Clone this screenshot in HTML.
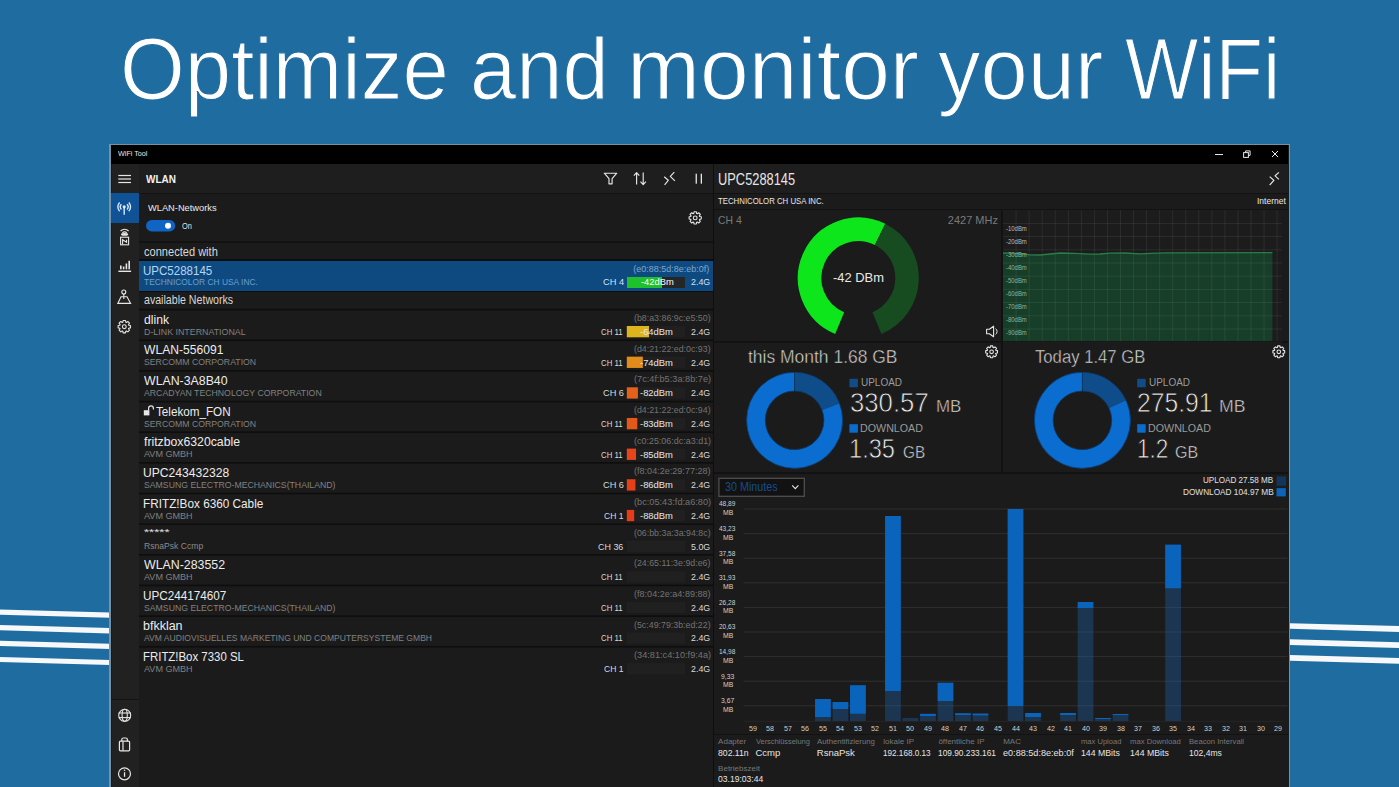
<!DOCTYPE html>
<html><head><meta charset="utf-8">
<style>
*{margin:0;padding:0;box-sizing:border-box}
html,body{width:1399px;height:787px;overflow:hidden}
body{position:relative;background:#1f6ca1;font-family:"Liberation Sans",sans-serif;color:#fff}
.t{position:absolute;white-space:nowrap;line-height:1;transform-origin:0 0}
.p{position:absolute}
.h{position:absolute;top:25px;font-size:87px;line-height:1;color:#fff;white-space:nowrap;transform-origin:0 0;-webkit-text-stroke:1.2px #1f6ca1}
svg{position:absolute;left:0;top:0}
</style></head><body>
<svg width="1399" height="787" style="z-index:0">
  <rect width="1399" height="787" fill="#1f6ca1"/>
  <g fill="#f6f8fa">
    <polygon points="0,609.5 110,612.5 110,617.8 0,614.8"/>
    <polygon points="0,625 110,628 110,633.4 0,630.3"/>
    <polygon points="0,640.8 110,643.8 110,649 0,645.9"/>
    <polygon points="0,656.9 110,659.9 110,665.1 0,662"/>
    <polygon points="1290,623.2 1399,626.1 1399,631.9 1290,628.8"/>
    <polygon points="1290,639.3 1399,642.2 1399,648 1290,645"/>
    <polygon points="1290,655 1399,657.9 1399,663.7 1290,660.7"/>
  </g>
</svg>
<div class="h" style="left:119.9px;transform:scaleX(0.958)">Optimize</div>
<div class="h" style="left:469.8px;transform:scaleX(0.956)">and</div>
<div class="h" style="left:626.8px;transform:scaleX(1.0065)">monitor</div>
<div class="h" style="left:937.8px;transform:scaleX(0.976)">your</div>
<div class="h" style="left:1124.8px;transform:scaleX(0.893)">WiFi</div>

<!-- window -->
<div class="p" style="left:109px;top:144px;width:1181px;height:643px;background:#7890a2"></div>
<div class="p" style="left:111px;top:145px;width:1177.5px;height:642px;background:#1b1b1b"></div>
<div class="p" style="left:111px;top:145px;width:1177px;height:19px;background:#000"></div>
<!-- nav -->
<div class="p" style="left:111px;top:164px;width:28px;height:623px;background:#212121"></div><div class="p" style="left:111px;top:164px;width:1px;height:623px;background:#151a1d"></div>
<div class="p" style="left:111px;top:193px;width:28px;height:30px;background:#0f5296"></div>
<div class="p" style="left:111px;top:698.5px;width:28px;height:1.5px;background:#141414"></div>
<!-- left header -->
<div class="p" style="left:139px;top:164px;width:574px;height:29px;background:#1e1e1e"></div>
<div class="p" style="left:139px;top:192.5px;width:574px;height:1.5px;background:#121212"></div>
<div class="p" style="left:139px;top:240.5px;width:574px;height:2px;background:#121212"></div>
<div class="p" style="left:139px;top:260.5px;width:574px;height:30.5px;background:#0e4a80"></div>
<div class="p" style="left:139px;top:291px;width:574px;height:18px;background:#1b1b1b"></div>
<div class="p" style="left:139px;top:290.8px;width:574px;height:1.6px;background:#0a0f14"></div>
<div class="p" style="left:139px;top:259.3px;width:574px;height:1.3px;background:#0a0f14"></div>
<div class="p" style="left:626.8px;top:276.5px;width:58.5px;height:11.4px;background:#262626"></div>
<div class="p" style="left:626.8px;top:276.5px;width:35.7px;height:11.4px;background:#1ec12c"></div>
<!-- divider -->
<div class="p" style="left:713px;top:164px;width:1px;height:623px;background:#0e0e0e"></div>
<!-- right header -->
<div class="p" style="left:714px;top:164px;width:574px;height:29px;background:#1e1e1e"></div>
<div class="p" style="left:714px;top:192.5px;width:574px;height:1px;background:#121212"></div>
<div class="p" style="left:714px;top:208.5px;width:574px;height:1.5px;background:#121212"></div>
<div class="p" style="left:714px;top:341px;width:574px;height:2px;background:#121212"></div>
<div class="p" style="left:1001px;top:210px;width:2px;height:262px;background:#121212"></div>
<div class="p" style="left:714px;top:472px;width:574px;height:1.5px;background:#121212"></div>
<div class="p" style="left:714px;top:733.5px;width:574px;height:1.5px;background:#121212"></div>

<svg width="1399" height="787">
<rect x="139" y="308.80" width="574" height="1.6" fill="#0e0e0e"/>
<rect x="626.8" y="326.00" width="58.5" height="11.3" fill="#202020"/>
<rect x="626.8" y="326.00" width="22.21" height="11.3" fill="#dcb41e"/>
<rect x="139" y="339.45" width="574" height="1.6" fill="#0e0e0e"/>
<rect x="626.8" y="356.65" width="58.5" height="11.3" fill="#202020"/>
<rect x="626.8" y="356.65" width="16.04" height="11.3" fill="#e28c1c"/>
<rect x="139" y="370.10" width="574" height="1.6" fill="#0e0e0e"/>
<rect x="626.8" y="387.30" width="58.5" height="11.3" fill="#202020"/>
<rect x="626.8" y="387.30" width="11.11" height="11.3" fill="#e2621c"/>
<rect x="139" y="400.75" width="574" height="1.6" fill="#0e0e0e"/>
<rect x="626.8" y="417.95" width="58.5" height="11.3" fill="#202020"/>
<rect x="626.8" y="417.95" width="10.49" height="11.3" fill="#e4581a"/>
<rect x="139" y="431.40" width="574" height="1.6" fill="#0e0e0e"/>
<rect x="626.8" y="448.60" width="58.5" height="11.3" fill="#202020"/>
<rect x="626.8" y="448.60" width="9.25" height="11.3" fill="#e6461a"/>
<rect x="139" y="462.05" width="574" height="1.6" fill="#0e0e0e"/>
<rect x="626.8" y="479.25" width="58.5" height="11.3" fill="#202020"/>
<rect x="626.8" y="479.25" width="8.64" height="11.3" fill="#e6401a"/>
<rect x="139" y="492.70" width="574" height="1.6" fill="#0e0e0e"/>
<rect x="626.8" y="509.90" width="58.5" height="11.3" fill="#202020"/>
<rect x="626.8" y="509.90" width="7.40" height="11.3" fill="#e63c1a"/>
<rect x="139" y="523.35" width="574" height="1.6" fill="#0e0e0e"/>
<rect x="626.8" y="540.55" width="58.5" height="11.3" fill="#202020"/>
<rect x="139" y="554.00" width="574" height="1.6" fill="#0e0e0e"/>
<rect x="626.8" y="571.20" width="58.5" height="11.3" fill="#202020"/>
<rect x="139" y="584.65" width="574" height="1.6" fill="#0e0e0e"/>
<rect x="626.8" y="601.85" width="58.5" height="11.3" fill="#202020"/>
<rect x="139" y="615.30" width="574" height="1.6" fill="#0e0e0e"/>
<rect x="626.8" y="632.50" width="58.5" height="11.3" fill="#202020"/>
<rect x="139" y="645.95" width="574" height="1.6" fill="#0e0e0e"/>
<rect x="626.8" y="663.15" width="58.5" height="11.3" fill="#202020"/>
<rect x="118.3" y="174.9" width="12.7" height="1.2" fill="#e6e6e6"/>
<rect x="118.3" y="178.4" width="12.7" height="1.2" fill="#e6e6e6"/>
<rect x="118.3" y="181.9" width="12.7" height="1.2" fill="#e6e6e6"/>
<g fill="none" stroke="#d6eaff" stroke-width="1.4">
<path d="M121.4,204.20000000000002 A3.8,3.8 0 0 0 121.4,209.4"/>
<path d="M127.0,204.20000000000002 A3.8,3.8 0 0 1 127.0,209.4"/>
<path d="M119.60000000000001,202.4 A6.4,6.4 0 0 0 119.60000000000001,211.20000000000002"/>
<path d="M128.8,202.4 A6.4,6.4 0 0 1 128.8,211.20000000000002"/>
<line x1="124.2" y1="206.8" x2="124.2" y2="214.8"/>
</g>
<circle cx="124.2" cy="206.8" r="1.6" fill="#dcecff"/>
<g fill="none" stroke="#e6e6e6" stroke-width="1.1">
<path d="M120.6,231 A5.5,5.5 0 0 1 128.6,231"/>
<path d="M122.39999999999999,232.8 A3,3 0 0 1 126.8,232.8"/>
<rect x="120.6" y="237.2" width="8" height="7.6"/>
<path d="M122.6,244.5 L122.6,239.8 L126.6,242.2 L126.6,239.8"/>
</g>
<ellipse cx="124.6" cy="234.4" rx="3.6" ry="1.4" fill="#e6e6e6"/>
<rect x="118.4" y="270.6" width="12.7" height="1.4" fill="#e6e6e6"/>
<rect x="120" y="265.5" width="1.6" height="3.8000000000000114" fill="#e6e6e6"/>
<rect x="122.8" y="266.5" width="1.6" height="2.8000000000000114" fill="#e6e6e6"/>
<rect x="125.6" y="263.5" width="1.6" height="5.800000000000011" fill="#e6e6e6"/>
<rect x="128.4" y="260.8" width="1.6" height="8.5" fill="#e6e6e6"/>
<g fill="none" stroke="#e6e6e6" stroke-width="1.1">
<circle cx="123.8" cy="292" r="2"/>
<line x1="123.8" y1="294" x2="123.8" y2="299"/>
<path d="M121,296.8 L127,296.8 L130.6,303.4 L117.8,303.4 Z"/>
</g>
<path d="M128.76,325.21 L130.48,325.50 L130.48,327.90 L128.76,328.19 L128.51,328.80 L129.52,330.22 L127.82,331.92 L126.40,330.91 L125.79,331.16 L125.50,332.88 L123.10,332.88 L122.81,331.16 L122.20,330.91 L120.78,331.92 L119.08,330.22 L120.09,328.80 L119.84,328.19 L118.12,327.90 L118.12,325.50 L119.84,325.21 L120.09,324.60 L119.08,323.18 L120.78,321.48 L122.20,322.49 L122.81,322.24 L123.10,320.52 L125.50,320.52 L125.79,322.24 L126.40,322.49 L127.82,321.48 L129.52,323.18 L128.51,324.60Z" fill="none" stroke="#e6e6e6" stroke-width="1.1" stroke-linejoin="round"/><circle cx="124.3" cy="326.7" r="1.9" fill="none" stroke="#e6e6e6" stroke-width="1.1"/>
<g fill="none" stroke="#e6e6e6" stroke-width="1.1">
<circle cx="124.7" cy="715.3" r="6"/>
<ellipse cx="124.7" cy="715.3" rx="2.6" ry="6"/>
<line x1="118.7" y1="713" x2="130.7" y2="713"/><line x1="118.7" y1="717.6" x2="130.7" y2="717.6"/>
</g>
<g fill="none" stroke="#e6e6e6" stroke-width="1.2">
<rect x="119.4" y="741.2" width="10.2" height="9.6" rx="1"/>
<path d="M121.8,741.2 L121.8,739.6 A1.6,1.6 0 0 1 123.4,738 L125.8,738 A1.6,1.6 0 0 1 127.4,739.6 L127.4,741.2"/>
<line x1="123" y1="741.2" x2="123" y2="750.8"/>
</g>
<circle cx="124.5" cy="773.8" r="6" fill="none" stroke="#e6e6e6" stroke-width="1.2"/>
<rect x="123.9" y="772.2" width="1.3" height="4.6" fill="#e6e6e6"/><circle cx="124.55" cy="770.3" r="0.8" fill="#e6e6e6"/>
<g fill="none" stroke="#e6e6e6" stroke-width="1.15" stroke-linejoin="round">
<path d="M604.3,173.2 L616.8,173.2 L612.1,178.6 L612.1,183.8 L609.0,183.8 L609.0,178.6 Z"/>
<path d="M636.6,184.6 L636.6,172.6 M633.9,175.6 L636.6,172.6 L639.3,175.6"/>
<path d="M643.2,172.4 L643.2,184.6 M640.5,181.6 L643.2,184.6 L645.9,181.6"/>
<path d="M664.2,176.8 L668.3,180.3 L664.6,184.8"/>
<path d="M674.3,172.2 L670.3,176.3 L674.9,180.8"/>
<path d="M1269.7,176.6 L1273.9,180.4 L1269.7,185"/>
<path d="M1278.9,172.4 L1275.1,175.8 L1278.9,179.3"/>
</g>
<rect x="695.6" y="173.7" width="1.3" height="10" fill="#e6e6e6"/><rect x="700.7" y="173.7" width="1.3" height="10" fill="#e6e6e6"/>
<path d="M699.56,216.44 L701.29,216.72 L701.29,219.08 L699.56,219.36 L699.32,219.95 L700.34,221.37 L698.67,223.04 L697.25,222.02 L696.66,222.26 L696.38,223.99 L694.02,223.99 L693.74,222.26 L693.15,222.02 L691.73,223.04 L690.06,221.37 L691.08,219.95 L690.84,219.36 L689.11,219.08 L689.11,216.72 L690.84,216.44 L691.08,215.85 L690.06,214.43 L691.73,212.76 L693.15,213.78 L693.74,213.54 L694.02,211.81 L696.38,211.81 L696.66,213.54 L697.25,213.78 L698.67,212.76 L700.34,214.43 L699.32,215.85Z" fill="none" stroke="#e6e6e6" stroke-width="1.1" stroke-linejoin="round"/><circle cx="695.2" cy="217.9" r="1.9" fill="none" stroke="#e6e6e6" stroke-width="1.1"/>
<path d="M995.87,350.37 L997.49,350.66 L997.49,352.94 L995.87,353.23 L995.63,353.81 L996.57,355.16 L994.96,356.77 L993.61,355.83 L993.03,356.07 L992.74,357.69 L990.46,357.69 L990.17,356.07 L989.59,355.83 L988.24,356.77 L986.63,355.16 L987.57,353.81 L987.33,353.23 L985.71,352.94 L985.71,350.66 L987.33,350.37 L987.57,349.79 L986.63,348.44 L988.24,346.83 L989.59,347.77 L990.17,347.53 L990.46,345.91 L992.74,345.91 L993.03,347.53 L993.61,347.77 L994.96,346.83 L996.57,348.44 L995.63,349.79Z" fill="none" stroke="#e6e6e6" stroke-width="1.1" stroke-linejoin="round"/><circle cx="991.6" cy="351.8" r="1.8" fill="none" stroke="#e6e6e6" stroke-width="1.1"/>
<path d="M1283.07,350.37 L1284.69,350.66 L1284.69,352.94 L1283.07,353.23 L1282.83,353.81 L1283.77,355.16 L1282.16,356.77 L1280.81,355.83 L1280.23,356.07 L1279.94,357.69 L1277.66,357.69 L1277.37,356.07 L1276.79,355.83 L1275.44,356.77 L1273.83,355.16 L1274.77,353.81 L1274.53,353.23 L1272.91,352.94 L1272.91,350.66 L1274.53,350.37 L1274.77,349.79 L1273.83,348.44 L1275.44,346.83 L1276.79,347.77 L1277.37,347.53 L1277.66,345.91 L1279.94,345.91 L1280.23,347.53 L1280.81,347.77 L1282.16,346.83 L1283.77,348.44 L1282.83,349.79Z" fill="none" stroke="#e6e6e6" stroke-width="1.1" stroke-linejoin="round"/><circle cx="1278.8" cy="351.8" r="1.8" fill="none" stroke="#e6e6e6" stroke-width="1.1"/>
<path d="M986.6,329.2 L989.4,329.2 L993.6,326.2 L993.6,336.8 L989.4,333.8 L986.6,333.8 Z" fill="none" stroke="#e6e6e6" stroke-width="1.1" stroke-linejoin="round"/>
<path d="M995.6,328.6 A3.6,3.6 0 0 1 995.6,334.4" fill="none" stroke="#e6e6e6" stroke-width="1"/>
<rect x="1215" y="154" width="8" height="1" fill="#e6e6e6"/>
<g fill="none" stroke="#e6e6e6" stroke-width="1"><rect x="1243.6" y="152.6" width="4.8" height="4.8"/><path d="M1245.6,152.6 L1245.6,150.9 L1250.1,150.9 L1250.1,155.4 L1248.4,155.4"/>
<path d="M1272,151 L1278,157 M1278,151 L1272,157"/></g>
<rect x="143.8" y="410.2" width="5.6" height="5.2" fill="#e6e6e6"/>
<path d="M148.6,410.4 L148.6,408.2 A2.4,2.4 0 0 1 153.4,408.2 L153.4,409.6" fill="none" stroke="#e6e6e6" stroke-width="1.2"/>
<rect x="146" y="220" width="29.2" height="11.4" rx="5.7" fill="#1064c4"/>
<circle cx="168" cy="225.7" r="3" fill="#ffffff"/>
<path d="M839.64,323.04 A48.75,48.75 0 1 1 880.05,234.37" fill="none" stroke="#0ce61b" stroke-width="23.5"/>
<path d="M880.05,234.37 A48.75,48.75 0 0 1 876.96,323.04" fill="none" stroke="#174c20" stroke-width="23.5"/>
<path d="M794.60,381.65 A38.65,38.65 0 0 1 830.73,406.58" fill="none" stroke="#0f4d8a" stroke-width="18.7"/>
<path d="M830.73,406.58 A38.65,38.65 0 1 1 794.60,381.65" fill="none" stroke="#0b6dcf" stroke-width="18.7"/>
<circle cx="794.6" cy="420.3" r="48" fill="none" stroke="#0b3a68" stroke-width="0.8"/>
<circle cx="794.6" cy="420.3" r="29.3" fill="none" stroke="#0b3a68" stroke-width="0.8"/>
<line x1="794.6" y1="372.3" x2="794.6" y2="391" stroke="#0a3560" stroke-width="1"/>
<path d="M1082.40,381.65 A38.65,38.65 0 0 1 1117.51,404.15" fill="none" stroke="#0f4d8a" stroke-width="18.7"/>
<path d="M1117.51,404.15 A38.65,38.65 0 1 1 1082.40,381.65" fill="none" stroke="#0b6dcf" stroke-width="18.7"/>
<circle cx="1082.4" cy="420.3" r="48" fill="none" stroke="#0b3a68" stroke-width="0.8"/>
<circle cx="1082.4" cy="420.3" r="29.3" fill="none" stroke="#0b3a68" stroke-width="0.8"/>
<line x1="1082.4" y1="372.3" x2="1082.4" y2="391" stroke="#0a3560" stroke-width="1"/>
<rect x="849.4" y="378.8" width="8.5" height="8.5" fill="#104c86"/>
<rect x="849.4" y="424.2" width="8.5" height="8.5" fill="#0b6ccc"/>
<rect x="1137.2" y="378.8" width="8.5" height="8.5" fill="#104c86"/>
<rect x="1137.2" y="424.2" width="8.5" height="8.5" fill="#0b6ccc"/>
<rect x="1003" y="210" width="279" height="131" fill="#1c1c1c"/>
<path d="M1003,253 L1020,253.5 L1030,254.8 L1040,255 L1050,254 L1060,253 L1075,253.4 L1090,254.2 L1100,254 L1110,253.2 L1125,253 L1140,253.8 L1150,253.4 L1165,252.8 L1272.4,252.6 L1272.4,341 L1003,341 Z" fill="#173e28"/>
<rect x="1015.60" y="210" width="1" height="131" fill="#ffffff" fill-opacity="0.07"/>
<rect x="1028.65" y="210" width="1" height="131" fill="#ffffff" fill-opacity="0.07"/>
<rect x="1041.70" y="210" width="1" height="131" fill="#ffffff" fill-opacity="0.07"/>
<rect x="1054.75" y="210" width="1" height="131" fill="#ffffff" fill-opacity="0.07"/>
<rect x="1067.80" y="210" width="1" height="131" fill="#ffffff" fill-opacity="0.07"/>
<rect x="1080.85" y="210" width="1" height="131" fill="#ffffff" fill-opacity="0.07"/>
<rect x="1093.90" y="210" width="1" height="131" fill="#ffffff" fill-opacity="0.07"/>
<rect x="1106.95" y="210" width="1" height="131" fill="#ffffff" fill-opacity="0.07"/>
<rect x="1120.00" y="210" width="1" height="131" fill="#ffffff" fill-opacity="0.07"/>
<rect x="1133.05" y="210" width="1" height="131" fill="#ffffff" fill-opacity="0.07"/>
<rect x="1146.10" y="210" width="1" height="131" fill="#ffffff" fill-opacity="0.07"/>
<rect x="1159.15" y="210" width="1" height="131" fill="#ffffff" fill-opacity="0.07"/>
<rect x="1172.20" y="210" width="1" height="131" fill="#ffffff" fill-opacity="0.07"/>
<rect x="1185.25" y="210" width="1" height="131" fill="#ffffff" fill-opacity="0.07"/>
<rect x="1198.30" y="210" width="1" height="131" fill="#ffffff" fill-opacity="0.07"/>
<rect x="1211.35" y="210" width="1" height="131" fill="#ffffff" fill-opacity="0.07"/>
<rect x="1224.40" y="210" width="1" height="131" fill="#ffffff" fill-opacity="0.07"/>
<rect x="1237.45" y="210" width="1" height="131" fill="#ffffff" fill-opacity="0.07"/>
<rect x="1250.50" y="210" width="1" height="131" fill="#ffffff" fill-opacity="0.07"/>
<rect x="1263.55" y="210" width="1" height="131" fill="#ffffff" fill-opacity="0.07"/>
<rect x="1276.60" y="210" width="1" height="131" fill="#ffffff" fill-opacity="0.07"/>
<rect x="1003" y="222.90" width="279" height="1" fill="#ffffff" fill-opacity="0.07"/>
<rect x="1003" y="236.10" width="279" height="1" fill="#ffffff" fill-opacity="0.07"/>
<rect x="1003" y="249.30" width="279" height="1" fill="#ffffff" fill-opacity="0.07"/>
<rect x="1003" y="262.50" width="279" height="1" fill="#ffffff" fill-opacity="0.07"/>
<rect x="1003" y="275.70" width="279" height="1" fill="#ffffff" fill-opacity="0.07"/>
<rect x="1003" y="288.90" width="279" height="1" fill="#ffffff" fill-opacity="0.07"/>
<rect x="1003" y="302.10" width="279" height="1" fill="#ffffff" fill-opacity="0.07"/>
<rect x="1003" y="315.30" width="279" height="1" fill="#ffffff" fill-opacity="0.07"/>
<rect x="1003" y="328.50" width="279" height="1" fill="#ffffff" fill-opacity="0.07"/>
<rect x="1003" y="341.70" width="279" height="1" fill="#ffffff" fill-opacity="0.07"/>
<path d="M1003,253 L1020,253.5 L1030,254.8 L1040,255 L1050,254 L1060,253 L1075,253.4 L1090,254.2 L1100,254 L1110,253.2 L1125,253 L1140,253.8 L1150,253.4 L1165,252.8 L1272.4,252.6" fill="none" stroke="#2a7d49" stroke-width="1.3"/>
<rect x="743.5" y="508.50" width="544" height="1" fill="#2f2f2f"/>
<rect x="743.5" y="533.10" width="544" height="1" fill="#2f2f2f"/>
<rect x="743.5" y="557.70" width="544" height="1" fill="#2f2f2f"/>
<rect x="743.5" y="582.30" width="544" height="1" fill="#2f2f2f"/>
<rect x="743.5" y="606.90" width="544" height="1" fill="#2f2f2f"/>
<rect x="743.5" y="631.50" width="544" height="1" fill="#2f2f2f"/>
<rect x="743.5" y="656.10" width="544" height="1" fill="#2f2f2f"/>
<rect x="743.5" y="680.70" width="544" height="1" fill="#2f2f2f"/>
<rect x="743.5" y="705.30" width="544" height="1" fill="#2f2f2f"/>
<rect x="743.5" y="720.8" width="540" height="1" fill="#262626"/>
<rect x="815.03" y="699" width="15.8" height="18.00" fill="#0a64bc"/>
<rect x="815.03" y="717" width="15.8" height="4.00" fill="#1f6ac0" fill-opacity="0.33"/>
<rect x="832.53" y="702" width="15.8" height="7.00" fill="#0a64bc"/>
<rect x="832.53" y="709" width="15.8" height="12.00" fill="#1f6ac0" fill-opacity="0.33"/>
<rect x="850.04" y="685.2" width="15.8" height="28.60" fill="#0a64bc"/>
<rect x="850.04" y="713.8" width="15.8" height="7.20" fill="#1f6ac0" fill-opacity="0.33"/>
<rect x="885.06" y="516" width="15.8" height="175.00" fill="#0a64bc"/>
<rect x="885.06" y="691" width="15.8" height="30.00" fill="#1f6ac0" fill-opacity="0.33"/>
<rect x="902.56" y="718" width="15.8" height="3.00" fill="#1f6ac0" fill-opacity="0.33"/>
<rect x="920.07" y="713.8" width="15.8" height="2.20" fill="#0a64bc"/>
<rect x="920.07" y="716" width="15.8" height="5.00" fill="#1f6ac0" fill-opacity="0.33"/>
<rect x="937.58" y="682.7" width="15.8" height="18.30" fill="#0a64bc"/>
<rect x="937.58" y="701" width="15.8" height="20.00" fill="#1f6ac0" fill-opacity="0.33"/>
<rect x="955.08" y="713.2" width="15.8" height="1.80" fill="#0a64bc"/>
<rect x="955.08" y="715" width="15.8" height="6.00" fill="#1f6ac0" fill-opacity="0.33"/>
<rect x="972.59" y="713.5" width="15.8" height="2.00" fill="#0a64bc"/>
<rect x="972.59" y="715.5" width="15.8" height="5.50" fill="#1f6ac0" fill-opacity="0.33"/>
<rect x="1007.61" y="509" width="15.8" height="197.00" fill="#0a64bc"/>
<rect x="1007.61" y="706" width="15.8" height="15.00" fill="#1f6ac0" fill-opacity="0.33"/>
<rect x="1025.11" y="713" width="15.8" height="4.00" fill="#0a64bc"/>
<rect x="1025.11" y="717" width="15.8" height="4.00" fill="#1f6ac0" fill-opacity="0.33"/>
<rect x="1060.13" y="713" width="15.8" height="2.00" fill="#0a64bc"/>
<rect x="1060.13" y="715" width="15.8" height="6.00" fill="#1f6ac0" fill-opacity="0.33"/>
<rect x="1077.63" y="602" width="15.8" height="6.00" fill="#0a64bc"/>
<rect x="1077.63" y="608" width="15.8" height="113.00" fill="#1f6ac0" fill-opacity="0.33"/>
<rect x="1095.14" y="718" width="15.8" height="1.00" fill="#0a64bc"/>
<rect x="1095.14" y="719" width="15.8" height="2.00" fill="#1f6ac0" fill-opacity="0.33"/>
<rect x="1112.65" y="714" width="15.8" height="1.00" fill="#0a64bc"/>
<rect x="1112.65" y="715" width="15.8" height="6.00" fill="#1f6ac0" fill-opacity="0.33"/>
<rect x="1165.17" y="544.6" width="15.8" height="43.80" fill="#0a64bc"/>
<rect x="1165.17" y="588.4" width="15.8" height="132.60" fill="#1f6ac0" fill-opacity="0.33"/>
<rect x="718.9" y="478.3" width="85.4" height="18" fill="#121212" stroke="#4e4e4e" stroke-width="1.3"/>
<path d="M792.2,485.4 L795.3,488.6 L798.4,485.4" fill="none" stroke="#e6e6e6" stroke-width="1.1"/>
<rect x="1276.5" y="476.3" width="9.5" height="9.5" fill="#12355a"/>
<rect x="1276.5" y="488.1" width="9.3" height="8.3" fill="#0b64b8"/>
</svg>
<div class="t" style="left:117.80px;top:150.00px;font-size:7.8px;color:#e8e8e8;transform:scaleX(0.922);">WiFi Tool</div>
<div class="t" style="left:146.30px;top:174.88px;font-size:10.3px;color:#f2f2f2;font-weight:700;transform:scaleX(0.968);">WLAN</div>
<div class="t" style="left:147.60px;top:202.66px;font-size:9.5px;color:#ececec;transform:scaleX(0.976);">WLAN-Networks</div>
<div class="t" style="left:181.60px;top:222.10px;font-size:8.5px;color:#e0e0e0;transform:scaleX(0.873);">On</div>
<div class="t" style="left:143.70px;top:244.80px;font-size:13px;color:#d8d8d8;transform:scaleX(0.851);">connected with</div>
<div class="t" style="left:143.11px;top:263.60px;font-size:13px;color:#b4d6f7;transform:scaleX(0.887);">UPC5288145</div>
<div class="t" style="left:144.00px;top:278.18px;font-size:9px;color:#6f9dcb;transform:scaleX(0.933);">TECHNICOLOR CH USA INC.</div>
<div class="t" style="left:633.30px;top:264.68px;font-size:9px;color:#7ea6cf;">(e0:88:5d:8e:eb:0f)</div>
<div class="t" style="left:602.50px;top:278.08px;font-size:9px;color:#cfe2f5;transform:scaleX(1.025);">CH 4</div>
<div class="t" style="left:640.50px;top:278.08px;font-size:9px;color:#ffffff;transform:scaleX(1.039);">-42dBm</div>
<div class="t" style="left:691.00px;top:278.08px;font-size:9px;color:#cfe2f5;transform:scaleX(0.984);">2.4G</div>
<div class="t" style="left:143.70px;top:293.00px;font-size:13px;color:#d8d8d8;transform:scaleX(0.817);">available Networks</div>
<div class="t" style="left:143.80px;top:312.80px;font-size:13px;color:#ececec;transform:scaleX(0.937);">dlink</div>
<div class="t" style="left:144.00px;top:327.78px;font-size:9px;color:#818181;transform:scaleX(0.984);">D-LINK INTERNATIONAL</div>
<div class="t" style="left:633.70px;top:314.08px;font-size:9px;color:#737373;transform:scaleX(0.981);">(b8:a3:86:9c:e5:50)</div>
<div class="t" style="left:601.20px;top:327.98px;font-size:9px;color:#dadada;transform:scaleX(0.868);">CH 11</div>
<div class="t" style="left:640.40px;top:327.98px;font-size:9px;color:#e6e6e6;transform:scaleX(1.045);">-64dBm</div>
<div class="t" style="left:691.00px;top:327.98px;font-size:9px;color:#dadada;transform:scaleX(0.984);">2.4G</div>
<div class="t" style="left:143.80px;top:343.45px;font-size:13px;color:#ececec;transform:scaleX(0.931);">WLAN-556091</div>
<div class="t" style="left:144.00px;top:358.43px;font-size:9px;color:#818181;transform:scaleX(0.968);">SERCOMM CORPORATION</div>
<div class="t" style="left:633.70px;top:344.73px;font-size:9px;color:#737373;transform:scaleX(0.981);">(d4:21:22:ed:0c:93)</div>
<div class="t" style="left:601.20px;top:358.63px;font-size:9px;color:#dadada;transform:scaleX(0.868);">CH 11</div>
<div class="t" style="left:640.40px;top:358.63px;font-size:9px;color:#e6e6e6;transform:scaleX(1.045);">-74dBm</div>
<div class="t" style="left:691.00px;top:358.63px;font-size:9px;color:#dadada;transform:scaleX(0.984);">2.4G</div>
<div class="t" style="left:143.80px;top:374.10px;font-size:13px;color:#ececec;transform:scaleX(0.948);">WLAN-3A8B40</div>
<div class="t" style="left:144.00px;top:389.08px;font-size:9px;color:#818181;transform:scaleX(0.969);">ARCADYAN TECHNOLOGY CORPORATION</div>
<div class="t" style="left:633.70px;top:375.38px;font-size:9px;color:#737373;transform:scaleX(1.020);">(7c:4f:b5:3a:8b:7e)</div>
<div class="t" style="left:602.50px;top:389.28px;font-size:9px;color:#dadada;transform:scaleX(1.020);">CH 6</div>
<div class="t" style="left:640.40px;top:389.28px;font-size:9px;color:#e6e6e6;transform:scaleX(1.045);">-82dBm</div>
<div class="t" style="left:691.00px;top:389.28px;font-size:9px;color:#dadada;transform:scaleX(0.984);">2.4G</div>
<div class="t" style="left:156.40px;top:404.75px;font-size:13px;color:#ececec;transform:scaleX(0.898);">Telekom_FON</div>
<div class="t" style="left:144.00px;top:419.73px;font-size:9px;color:#818181;transform:scaleX(0.968);">SERCOMM CORPORATION</div>
<div class="t" style="left:633.70px;top:406.03px;font-size:9px;color:#737373;transform:scaleX(0.981);">(d4:21:22:ed:0c:94)</div>
<div class="t" style="left:601.20px;top:419.93px;font-size:9px;color:#dadada;transform:scaleX(0.868);">CH 11</div>
<div class="t" style="left:640.40px;top:419.93px;font-size:9px;color:#e6e6e6;transform:scaleX(1.045);">-83dBm</div>
<div class="t" style="left:691.00px;top:419.93px;font-size:9px;color:#dadada;transform:scaleX(0.984);">2.4G</div>
<div class="t" style="left:143.80px;top:435.40px;font-size:13px;color:#ececec;transform:scaleX(0.942);">fritzbox6320cable</div>
<div class="t" style="left:144.00px;top:450.38px;font-size:9px;color:#818181;transform:scaleX(1.006);">AVM GMBH</div>
<div class="t" style="left:633.70px;top:436.68px;font-size:9px;color:#737373;transform:scaleX(0.994);">(c0:25:06:dc:a3:d1)</div>
<div class="t" style="left:601.20px;top:450.58px;font-size:9px;color:#dadada;transform:scaleX(0.868);">CH 11</div>
<div class="t" style="left:640.40px;top:450.58px;font-size:9px;color:#e6e6e6;transform:scaleX(1.045);">-85dBm</div>
<div class="t" style="left:691.00px;top:450.58px;font-size:9px;color:#dadada;transform:scaleX(0.984);">2.4G</div>
<div class="t" style="left:142.87px;top:466.05px;font-size:13px;color:#ececec;transform:scaleX(0.931);">UPC243432328</div>
<div class="t" style="left:144.00px;top:481.03px;font-size:9px;color:#818181;transform:scaleX(0.967);">SAMSUNG ELECTRO-MECHANICS(THAILAND)</div>
<div class="t" style="left:633.70px;top:467.33px;font-size:9px;color:#737373;transform:scaleX(1.007);">(f8:04:2e:29:77:28)</div>
<div class="t" style="left:602.50px;top:481.23px;font-size:9px;color:#dadada;transform:scaleX(1.020);">CH 6</div>
<div class="t" style="left:640.40px;top:481.23px;font-size:9px;color:#e6e6e6;transform:scaleX(1.045);">-86dBm</div>
<div class="t" style="left:691.00px;top:481.23px;font-size:9px;color:#dadada;transform:scaleX(0.984);">2.4G</div>
<div class="t" style="left:142.89px;top:496.70px;font-size:13px;color:#ececec;transform:scaleX(0.905);">FRITZ!Box 6360 Cable</div>
<div class="t" style="left:144.00px;top:511.68px;font-size:9px;color:#818181;transform:scaleX(1.006);">AVM GMBH</div>
<div class="t" style="left:633.70px;top:497.98px;font-size:9px;color:#737373;transform:scaleX(1.020);">(bc:05:43:fd:a6:80)</div>
<div class="t" style="left:603.90px;top:511.88px;font-size:9px;color:#dadada;transform:scaleX(0.950);">CH 1</div>
<div class="t" style="left:640.40px;top:511.88px;font-size:9px;color:#e6e6e6;transform:scaleX(1.045);">-88dBm</div>
<div class="t" style="left:691.00px;top:511.88px;font-size:9px;color:#dadada;transform:scaleX(0.984);">2.4G</div>
<div class="t" style="left:144.00px;top:527.93px;font-size:9px;color:#e0e0e0;transform:scaleX(1.456);">*****</div>
<div class="t" style="left:144.00px;top:542.33px;font-size:9px;color:#8a8a8a;transform:scaleX(0.955);">RsnaPsk Ccmp</div>
<div class="t" style="left:633.70px;top:528.63px;font-size:9px;color:#737373;transform:scaleX(0.981);">(06:bb:3a:3a:94:8c)</div>
<div class="t" style="left:598.10px;top:542.53px;font-size:9px;color:#dadada;transform:scaleX(0.992);">CH 36</div>
<div class="t" style="left:691.00px;top:542.53px;font-size:9px;color:#dadada;transform:scaleX(0.984);">5.0G</div>
<div class="t" style="left:143.80px;top:558.00px;font-size:13px;color:#ececec;transform:scaleX(0.951);">WLAN-283552</div>
<div class="t" style="left:144.00px;top:572.98px;font-size:9px;color:#818181;transform:scaleX(1.006);">AVM GMBH</div>
<div class="t" style="left:633.70px;top:559.28px;font-size:9px;color:#737373;transform:scaleX(0.981);">(24:65:11:3e:9d:e6)</div>
<div class="t" style="left:601.20px;top:573.18px;font-size:9px;color:#dadada;transform:scaleX(0.868);">CH 11</div>
<div class="t" style="left:691.00px;top:573.18px;font-size:9px;color:#dadada;transform:scaleX(0.984);">2.4G</div>
<div class="t" style="left:142.90px;top:588.65px;font-size:13px;color:#ececec;transform:scaleX(0.901);">UPC244174607</div>
<div class="t" style="left:144.00px;top:603.63px;font-size:9px;color:#818181;transform:scaleX(0.967);">SAMSUNG ELECTRO-MECHANICS(THAILAND)</div>
<div class="t" style="left:633.70px;top:589.93px;font-size:9px;color:#737373;transform:scaleX(1.007);">(f8:04:2e:a4:89:88)</div>
<div class="t" style="left:601.20px;top:603.83px;font-size:9px;color:#dadada;transform:scaleX(0.868);">CH 11</div>
<div class="t" style="left:691.00px;top:603.83px;font-size:9px;color:#dadada;transform:scaleX(0.984);">2.4G</div>
<div class="t" style="left:142.84px;top:619.30px;font-size:13px;color:#ececec;transform:scaleX(0.960);">bfkklan</div>
<div class="t" style="left:144.00px;top:634.28px;font-size:9px;color:#818181;transform:scaleX(0.951);">AVM AUDIOVISUELLES MARKETING UND COMPUTERSYSTEME GMBH</div>
<div class="t" style="left:633.70px;top:620.58px;font-size:9px;color:#737373;transform:scaleX(0.981);">(5c:49:79:3b:ed:22)</div>
<div class="t" style="left:601.20px;top:634.48px;font-size:9px;color:#dadada;transform:scaleX(0.868);">CH 11</div>
<div class="t" style="left:691.00px;top:634.48px;font-size:9px;color:#dadada;transform:scaleX(0.984);">2.4G</div>
<div class="t" style="left:142.92px;top:649.95px;font-size:13px;color:#ececec;transform:scaleX(0.878);">FRITZ!Box 7330 SL</div>
<div class="t" style="left:144.00px;top:664.93px;font-size:9px;color:#818181;transform:scaleX(1.006);">AVM GMBH</div>
<div class="t" style="left:633.70px;top:651.23px;font-size:9px;color:#737373;transform:scaleX(1.020);">(34:81:c4:10:f9:4a)</div>
<div class="t" style="left:603.90px;top:665.13px;font-size:9px;color:#dadada;transform:scaleX(0.950);">CH 1</div>
<div class="t" style="left:691.00px;top:665.13px;font-size:9px;color:#dadada;transform:scaleX(0.984);">2.4G</div>
<div class="t" style="left:718.00px;top:171.86px;font-size:16px;color:#e6e6e6;transform:scaleX(0.803);">UPC5288145</div>
<div class="t" style="left:718.00px;top:197.38px;font-size:9px;color:#e8e8e8;transform:scaleX(0.867);">TECHNICOLOR CH USA INC.</div>
<div class="t" style="left:1257.30px;top:197.38px;font-size:9px;color:#e8e8e8;transform:scaleX(0.942);">Internet</div>
<div class="t" style="left:718.00px;top:214.79px;font-size:11px;color:#7a7a7a;transform:scaleX(0.944);">CH 4</div>
<div class="t" style="left:947.80px;top:215.29px;font-size:11px;color:#7a7a7a;">2427 MHz</div>
<div class="t" style="left:833.40px;top:271.40px;font-size:13px;color:#e8e8e8;transform:scaleX(0.994);">-42 DBm</div>
<div class="t" style="left:1006.40px;top:225.80px;font-size:6.5px;color:#bdbdbd;transform:scaleX(0.913);">-10dBm</div>
<div class="t" style="left:1006.40px;top:238.80px;font-size:6.5px;color:#bdbdbd;transform:scaleX(0.913);">-20dBm</div>
<div class="t" style="left:1006.40px;top:251.80px;font-size:6.5px;color:#8fb59d;transform:scaleX(0.913);">-30dBm</div>
<div class="t" style="left:1006.40px;top:264.80px;font-size:6.5px;color:#8fb59d;transform:scaleX(0.913);">-40dBm</div>
<div class="t" style="left:1006.40px;top:277.80px;font-size:6.5px;color:#8fb59d;transform:scaleX(0.913);">-50dBm</div>
<div class="t" style="left:1006.40px;top:290.80px;font-size:6.5px;color:#8fb59d;transform:scaleX(0.913);">-60dBm</div>
<div class="t" style="left:1006.40px;top:303.80px;font-size:6.5px;color:#8fb59d;transform:scaleX(0.913);">-70dBm</div>
<div class="t" style="left:1006.40px;top:316.80px;font-size:6.5px;color:#8fb59d;transform:scaleX(0.913);">-80dBm</div>
<div class="t" style="left:1006.40px;top:329.80px;font-size:6.5px;color:#8fb59d;transform:scaleX(0.913);">-90dBm</div>
<div class="t" style="left:747.50px;top:348.34px;font-size:18.5px;color:#e0e0e0;transform:scaleX(0.944);-webkit-text-stroke:0.5px #1b1b1b;">this Month 1.68 GB</div>
<div class="t" style="left:861.20px;top:377.39px;font-size:11px;color:#9a9a9a;transform:scaleX(0.907);">UPLOAD</div>
<div class="t" style="left:849.58px;top:388.80px;font-size:28px;color:#f2f2f2;transform:scaleX(0.919);-webkit-text-stroke:0.8px #1b1b1b;">330.57</div>
<div class="t" style="left:936.27px;top:397.83px;font-size:16.5px;color:#e8e8e8;transform:scaleX(1.026);-webkit-text-stroke:0.5px #1b1b1b;">MB</div>
<div class="t" style="left:860.23px;top:422.89px;font-size:11px;color:#9a9a9a;transform:scaleX(0.972);">DOWNLOAD</div>
<div class="t" style="left:848.81px;top:434.60px;font-size:28px;color:#f2f2f2;transform:scaleX(0.844);-webkit-text-stroke:0.8px #1b1b1b;">1.35</div>
<div class="t" style="left:903.07px;top:443.53px;font-size:16.5px;color:#e8e8e8;transform:scaleX(0.932);-webkit-text-stroke:0.5px #1b1b1b;">GB</div>
<div class="t" style="left:1035.30px;top:348.34px;font-size:18.5px;color:#e0e0e0;transform:scaleX(0.902);-webkit-text-stroke:0.5px #1b1b1b;">Today 1.47 GB</div>
<div class="t" style="left:1149.00px;top:377.39px;font-size:11px;color:#9a9a9a;transform:scaleX(0.907);">UPLOAD</div>
<div class="t" style="left:1137.42px;top:388.80px;font-size:28px;color:#f2f2f2;transform:scaleX(0.881);-webkit-text-stroke:0.8px #1b1b1b;">275.91</div>
<div class="t" style="left:1218.73px;top:397.83px;font-size:16.5px;color:#e8e8e8;transform:scaleX(1.074);-webkit-text-stroke:0.5px #1b1b1b;">MB</div>
<div class="t" style="left:1148.03px;top:422.89px;font-size:11px;color:#9a9a9a;transform:scaleX(0.972);">DOWNLOAD</div>
<div class="t" style="left:1136.69px;top:434.60px;font-size:28px;color:#f2f2f2;transform:scaleX(0.806);-webkit-text-stroke:0.8px #1b1b1b;">1.2</div>
<div class="t" style="left:1174.93px;top:443.53px;font-size:16.5px;color:#e8e8e8;transform:scaleX(0.973);-webkit-text-stroke:0.5px #1b1b1b;">GB</div>
<div class="t" style="left:725.10px;top:481.44px;font-size:12px;color:#174c8c;transform:scaleX(0.897);">30 Minutes</div>
<div class="t" style="left:1203.00px;top:476.38px;font-size:9px;color:#e0e0e0;transform:scaleX(0.900);">UPLOAD 27.58 MB</div>
<div class="t" style="left:1182.50px;top:488.28px;font-size:9px;color:#e0e0e0;transform:scaleX(0.916);">DOWNLOAD 104.97 MB</div>
<div class="t" style="left:719.45px;top:500.45px;font-size:7.5px;color:#d0d0d0;transform:scaleX(0.868);">48,89</div>
<div class="t" style="left:722.70px;top:509.07px;font-size:7px;color:#d0d0d0;transform:scaleX(0.980);">MB</div>
<div class="t" style="left:719.45px;top:525.05px;font-size:7.5px;color:#d0d0d0;transform:scaleX(0.868);">43,23</div>
<div class="t" style="left:722.70px;top:533.67px;font-size:7px;color:#d0d0d0;transform:scaleX(0.980);">MB</div>
<div class="t" style="left:719.45px;top:549.65px;font-size:7.5px;color:#d0d0d0;transform:scaleX(0.868);">37,58</div>
<div class="t" style="left:722.70px;top:558.27px;font-size:7px;color:#d0d0d0;transform:scaleX(0.980);">MB</div>
<div class="t" style="left:719.45px;top:574.25px;font-size:7.5px;color:#d0d0d0;transform:scaleX(0.868);">31,93</div>
<div class="t" style="left:722.70px;top:582.87px;font-size:7px;color:#d0d0d0;transform:scaleX(0.980);">MB</div>
<div class="t" style="left:719.45px;top:598.85px;font-size:7.5px;color:#d0d0d0;transform:scaleX(0.868);">26,28</div>
<div class="t" style="left:722.70px;top:607.47px;font-size:7px;color:#d0d0d0;transform:scaleX(0.980);">MB</div>
<div class="t" style="left:719.45px;top:623.45px;font-size:7.5px;color:#d0d0d0;transform:scaleX(0.868);">20,63</div>
<div class="t" style="left:722.70px;top:632.07px;font-size:7px;color:#d0d0d0;transform:scaleX(0.980);">MB</div>
<div class="t" style="left:719.45px;top:648.05px;font-size:7.5px;color:#d0d0d0;transform:scaleX(0.868);">14,98</div>
<div class="t" style="left:722.70px;top:656.67px;font-size:7px;color:#d0d0d0;transform:scaleX(0.980);">MB</div>
<div class="t" style="left:720.90px;top:672.65px;font-size:7.5px;color:#d0d0d0;transform:scaleX(0.907);">9,33</div>
<div class="t" style="left:722.70px;top:681.27px;font-size:7px;color:#d0d0d0;transform:scaleX(0.980);">MB</div>
<div class="t" style="left:720.90px;top:697.25px;font-size:7.5px;color:#d0d0d0;transform:scaleX(0.907);">3,67</div>
<div class="t" style="left:722.70px;top:705.87px;font-size:7px;color:#d0d0d0;transform:scaleX(0.980);">MB</div>
<div class="t" style="left:748.90px;top:724.53px;font-size:8px;color:#d0d0d0;transform:scaleX(0.889);">59</div>
<div class="t" style="left:766.41px;top:724.53px;font-size:8px;color:#d0d0d0;transform:scaleX(0.889);">58</div>
<div class="t" style="left:783.91px;top:724.53px;font-size:8px;color:#d0d0d0;transform:scaleX(0.889);">57</div>
<div class="t" style="left:801.42px;top:724.53px;font-size:8px;color:#d0d0d0;transform:scaleX(0.889);">56</div>
<div class="t" style="left:818.93px;top:724.53px;font-size:8px;color:#d0d0d0;transform:scaleX(0.889);">55</div>
<div class="t" style="left:836.43px;top:724.53px;font-size:8px;color:#d0d0d0;transform:scaleX(0.889);">54</div>
<div class="t" style="left:853.94px;top:724.53px;font-size:8px;color:#d0d0d0;transform:scaleX(0.889);">53</div>
<div class="t" style="left:871.45px;top:724.53px;font-size:8px;color:#d0d0d0;transform:scaleX(0.889);">52</div>
<div class="t" style="left:888.96px;top:724.53px;font-size:8px;color:#d0d0d0;transform:scaleX(0.889);">51</div>
<div class="t" style="left:906.46px;top:724.53px;font-size:8px;color:#d0d0d0;transform:scaleX(0.889);">50</div>
<div class="t" style="left:923.97px;top:724.53px;font-size:8px;color:#d0d0d0;transform:scaleX(0.889);">49</div>
<div class="t" style="left:941.48px;top:724.53px;font-size:8px;color:#d0d0d0;transform:scaleX(0.889);">48</div>
<div class="t" style="left:958.98px;top:724.53px;font-size:8px;color:#d0d0d0;transform:scaleX(0.889);">47</div>
<div class="t" style="left:976.49px;top:724.53px;font-size:8px;color:#d0d0d0;transform:scaleX(0.889);">46</div>
<div class="t" style="left:994.00px;top:724.53px;font-size:8px;color:#d0d0d0;transform:scaleX(0.889);">45</div>
<div class="t" style="left:1011.50px;top:724.53px;font-size:8px;color:#d0d0d0;transform:scaleX(0.889);">44</div>
<div class="t" style="left:1029.01px;top:724.53px;font-size:8px;color:#d0d0d0;transform:scaleX(0.889);">43</div>
<div class="t" style="left:1046.52px;top:724.53px;font-size:8px;color:#d0d0d0;transform:scaleX(0.889);">42</div>
<div class="t" style="left:1064.03px;top:724.53px;font-size:8px;color:#d0d0d0;transform:scaleX(0.889);">41</div>
<div class="t" style="left:1081.53px;top:724.53px;font-size:8px;color:#d0d0d0;transform:scaleX(0.889);">40</div>
<div class="t" style="left:1099.04px;top:724.53px;font-size:8px;color:#d0d0d0;transform:scaleX(0.889);">39</div>
<div class="t" style="left:1116.55px;top:724.53px;font-size:8px;color:#d0d0d0;transform:scaleX(0.889);">38</div>
<div class="t" style="left:1134.05px;top:724.53px;font-size:8px;color:#d0d0d0;transform:scaleX(0.889);">37</div>
<div class="t" style="left:1151.56px;top:724.53px;font-size:8px;color:#d0d0d0;transform:scaleX(0.889);">36</div>
<div class="t" style="left:1169.07px;top:724.53px;font-size:8px;color:#d0d0d0;transform:scaleX(0.889);">35</div>
<div class="t" style="left:1186.58px;top:724.53px;font-size:8px;color:#d0d0d0;transform:scaleX(0.889);">34</div>
<div class="t" style="left:1204.08px;top:724.53px;font-size:8px;color:#d0d0d0;transform:scaleX(0.889);">33</div>
<div class="t" style="left:1221.59px;top:724.53px;font-size:8px;color:#d0d0d0;transform:scaleX(0.889);">32</div>
<div class="t" style="left:1239.10px;top:724.53px;font-size:8px;color:#d0d0d0;transform:scaleX(0.889);">31</div>
<div class="t" style="left:1256.60px;top:724.53px;font-size:8px;color:#d0d0d0;transform:scaleX(0.889);">30</div>
<div class="t" style="left:1274.11px;top:724.53px;font-size:8px;color:#d0d0d0;transform:scaleX(0.889);">29</div>
<div class="t" style="left:718.10px;top:738.23px;font-size:8px;color:#787878;">Adapter</div>
<div class="t" style="left:718.10px;top:747.76px;font-size:9.5px;color:#e6e6e6;transform:scaleX(0.912);">802.11n</div>
<div class="t" style="left:755.50px;top:738.23px;font-size:8px;color:#787878;transform:scaleX(0.924);">Verschlüsselung</div>
<div class="t" style="left:755.50px;top:747.76px;font-size:9.5px;color:#e6e6e6;">Ccmp</div>
<div class="t" style="left:816.80px;top:738.23px;font-size:8px;color:#787878;transform:scaleX(0.972);">Authentifizierung</div>
<div class="t" style="left:816.80px;top:747.76px;font-size:9.5px;color:#e6e6e6;">RsnaPsk</div>
<div class="t" style="left:883.30px;top:738.23px;font-size:8px;color:#787878;">lokale IP</div>
<div class="t" style="left:883.30px;top:747.76px;font-size:9.5px;color:#e6e6e6;transform:scaleX(0.858);">192.168.0.13</div>
<div class="t" style="left:938.40px;top:738.23px;font-size:8px;color:#787878;">öffentliche IP</div>
<div class="t" style="left:938.40px;top:747.76px;font-size:9.5px;color:#e6e6e6;transform:scaleX(0.877);">109.90.233.161</div>
<div class="t" style="left:1003.20px;top:738.23px;font-size:8px;color:#787878;">MAC</div>
<div class="t" style="left:1003.20px;top:747.76px;font-size:9.5px;color:#e6e6e6;transform:scaleX(0.957);">e0:88:5d:8e:eb:0f</div>
<div class="t" style="left:1081.10px;top:738.23px;font-size:8px;color:#787878;transform:scaleX(0.947);">max Upload</div>
<div class="t" style="left:1081.10px;top:747.76px;font-size:9.5px;color:#e6e6e6;transform:scaleX(0.919);">144 MBits</div>
<div class="t" style="left:1130.20px;top:738.23px;font-size:8px;color:#787878;transform:scaleX(0.962);">max Download</div>
<div class="t" style="left:1130.20px;top:747.76px;font-size:9.5px;color:#e6e6e6;transform:scaleX(0.919);">144 MBits</div>
<div class="t" style="left:1188.70px;top:738.23px;font-size:8px;color:#787878;transform:scaleX(0.960);">Beacon Intervall</div>
<div class="t" style="left:1188.70px;top:747.76px;font-size:9.5px;color:#e6e6e6;transform:scaleX(0.900);">102,4ms</div>
<div class="t" style="left:718.10px;top:765.03px;font-size:8px;color:#787878;">Betriebszeit</div>
<div class="t" style="left:718.10px;top:774.16px;font-size:9.5px;color:#e6e6e6;transform:scaleX(0.900);">03.19:03:44</div>
</body></html>
